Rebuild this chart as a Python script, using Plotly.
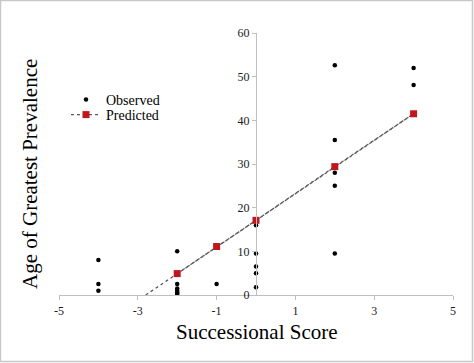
import plotly.graph_objects as go

# Observed data
obs_x = [-4, -4, -4, -2, -2, -2, -2, -2, -2, -1, 0, 0, 0, 0, 0, 2, 2, 2, 2, 2, 4, 4]
obs_y = [8.0, 2.5, 1.0, 10.0, 2.5, 1.5, 1.0, 0.6, 0.3, 2.5, 16.0, 9.5, 6.5, 5.0, 1.8,
         52.6, 35.5, 28.0, 25.0, 9.5, 52.0, 48.1]

# Predicted values
pred_x = [-2, -1, 0, 2, 4]
pred_y = [4.9, 11.1, 17.1, 29.4, 41.5]

# Fitted line (extends to x-intercept)
fit_x = [-2.8, 4]
fit_y = [0, 41.5]

x_ticks = [-5, -3, -1, 1, 3, 5]
y_ticks = [0, 10, 20, 30, 40, 50, 60]

W, H = 474, 363
ML, MR, MT, MB = 59, 21, 33, 68
PW, PH = W - ML - MR, H - MT - MB

serif = "Liberation Serif"
axis_col = "#bfbfbf"
line_col = "#5a5a5a"
red = "#c0171f"

fig = go.Figure()
fig.add_trace(go.Scatter(x=fit_x, y=fit_y, mode="lines",
                         line=dict(color=line_col, width=1.3, dash="dot"),
                         showlegend=False, hoverinfo="skip"))
fig.add_trace(go.Scatter(x=obs_x, y=obs_y, mode="markers", name="Observed",
                         marker=dict(color="black", size=4.5, symbol="circle"),
                         legend="legend"))
fig.add_trace(go.Scatter(x=pred_x, y=pred_y, mode="lines+markers", name="Predicted",
                         line=dict(color=line_col, width=1.3, dash="dot"),
                         marker=dict(color=red, size=7, symbol="square"),
                         legend="legend2"))

def px_to_paper_x(px):
    return (px - ML) / PW

def px_to_paper_y(py):
    return (H - MB - py) / PH

leg_common = dict(xanchor="left", yanchor="top", bgcolor="rgba(0,0,0,0)",
                  font=dict(family=serif, size=14, color="black"), itemwidth=30)

fig.update_layout(
    width=W, height=H,
    margin=dict(l=ML, r=MR, t=MT, b=MB),
    paper_bgcolor="white", plot_bgcolor="white",
    font=dict(family=serif, color="#1a1a1a", size=12),
    showlegend=True,
    legend=dict(x=px_to_paper_x(66), y=px_to_paper_y(84), **leg_common),
    legend2=dict(x=px_to_paper_x(66), y=px_to_paper_y(99), **leg_common),
    xaxis=dict(range=[-5, 5], tickvals=x_ticks, ticktext=[str(v) for v in x_ticks],
               showgrid=False, zeroline=False, showline=True, linecolor=axis_col,
               linewidth=1.2, ticks="outside", tickcolor=axis_col, ticklen=4,
               tickfont=dict(family=serif, size=12), domain=[0, 1], automargin=False),
    yaxis=dict(range=[0, 60], tickvals=y_ticks, showgrid=False, zeroline=False,
               showline=True, linecolor=axis_col, linewidth=1.2, ticks="outside",
               tickcolor=axis_col, ticklen=4, tickfont=dict(family=serif, size=12),
               anchor="free", position=0.5, automargin=False),
    annotations=[
        dict(text="Successional Score", x=px_to_paper_x(257), y=px_to_paper_y(332),
             xref="paper", yref="paper", showarrow=False,
             xanchor="center", yanchor="middle",
             font=dict(family=serif, size=21, color="black")),
        dict(text="Age of Greatest Prevalence", x=px_to_paper_x(30), y=px_to_paper_y(174),
             xref="paper", yref="paper", showarrow=False, textangle=-90,
             xanchor="center", yanchor="middle",
             font=dict(family=serif, size=21, color="black")),
    ],
    shapes=[
        dict(type="rect", xref="paper", yref="paper",
             x0=px_to_paper_x(0.5), x1=px_to_paper_x(W - 1.5),
             y0=px_to_paper_y(H - 1.5), y1=px_to_paper_y(0.5),
             line=dict(color="#c8c8c8", width=1.5), layer="below"),
    ],
)

fig.write_html("out.html", config={"displayModeBar": False},
               post_script="document.body.style.margin='0';document.body.style.overflow='hidden';")
